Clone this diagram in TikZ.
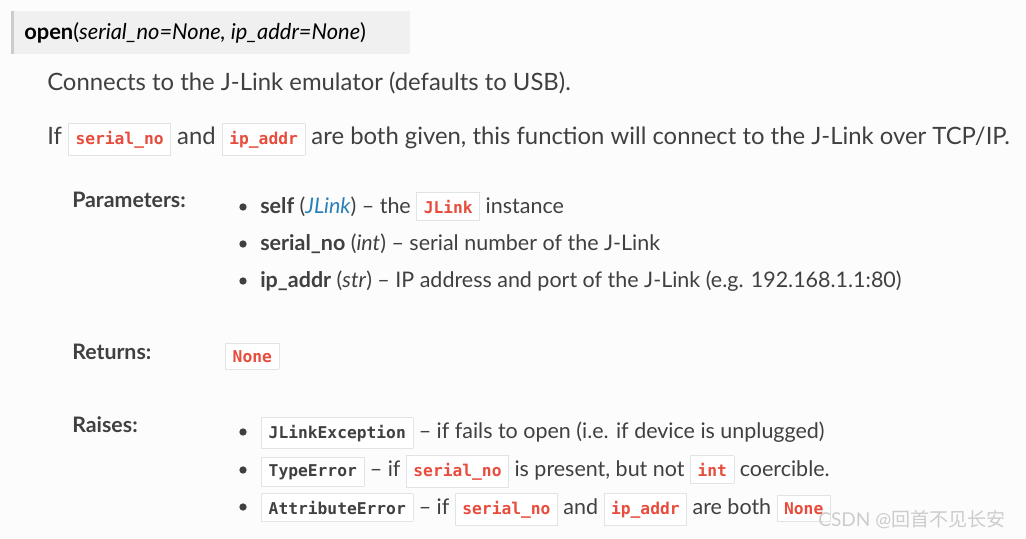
\documentclass[tikz,border=0pt]{standalone}
\usepackage{fontspec}
\setmainfont{Lato}
\newfontfamily\codefont{DejaVu Sans Mono}
\newfontfamily\cjkf{Noto Sans CJK SC}
\definecolor{bg}{HTML}{FCFCFC}
\definecolor{txt}{HTML}{404040}
\definecolor{codered}{HTML}{E74C3C}
\definecolor{boxgray}{HTML}{E1E4E5}
\definecolor{sigbg}{HTML}{F0F0F0}
\definecolor{sigbar}{HTML}{CCCCCC}
\definecolor{linkblue}{HTML}{2980B9}
\setlength{\fboxsep}{5pt}
\setlength{\fboxrule}{0.6pt}
\newcommand\cd[1]{\fcolorbox{boxgray}{white}{\codefont\bfseries\fontsize{12.2}{12}\selectfont\color{codered}#1}}
\newcommand\cdk[1]{\fcolorbox{boxgray}{white}{\codefont\bfseries\fontsize{12.2}{12}\selectfont\color{txt}#1}}
\begin{document}
\begin{tikzpicture}[x=0.75pt,y=-0.75pt,
  body/.style={anchor=base west,inner sep=0,text=txt,font=\fontsize{17.9}{19}\selectfont},
  item/.style={anchor=base west,inner sep=0,text=txt,font=\fontsize{16.1}{17}\selectfont},
  field/.style={anchor=base west,inner sep=0,text=txt,font=\fontsize{16}{17}\selectfont\bfseries},
  dot/.style={circle,fill=txt,inner sep=0,minimum size=5.5pt}]
\fill[bg] (0,0) rectangle (1026,539);
\useasboundingbox (0,0) rectangle (1026,539);
\fill[sigbg] (11,11) rectangle (410,54);
\fill[sigbar] (11,11) rectangle (14,54);
\node[body,text=black,font=\fontsize{16.4}{17}\selectfont] (sig) at (24,40) {\textbf{open}(\textit{serial\_no=None, ip\_addr=None})};
\node[body] (l1) at (47,90) {Connects to the J-Link emulator (defaults to USB).};
\node[body] (l2) at (47,144) {If \cd{serial\_no} and \cd{ip\_addr} are both given, this function will connect to the J-Link over TCP/IP.};
\node[field] (par) at (72,207) {Parameters:};
\node[dot] (d1) at (243,207) {};
\node[dot] (d2) at (243,244) {};
\node[dot] (d3) at (243,281) {};
\node[item] (p1) at (260,213) {\textbf{self} (\textit{\color{linkblue}JLink}) – the \cd{JLink} instance};
\node[item] (p2) at (260,250) {\textbf{serial\_no} (\textit{int}) – serial number of the J-Link};
\node[item] (p3) at (260,287) {\textbf{ip\_addr} (\textit{str}) – IP address and port of the J-Link (e.g. 192.168.1.1:80)};
\node[field] (ret) at (72,359) {Returns:};
\node[item] (rv) at (225,362) {\cd{None}};
\node[field] (rai) at (72,432) {Raises:};
\node[dot] (e1) at (243,432) {};
\node[dot] (e2) at (243,470) {};
\node[dot] (e3) at (243,507) {};
\node[item] (r1) at (261,438) {\cdk{JLinkException} – if fails to open (i.e. if device is unplugged)};
\node[item] (r2) at (261,476) {\cdk{TypeError} – if \cd{serial\_no} is present, but not \cd{int} coercible.};
\node[item] (r3) at (261,514) {\cdk{AttributeError} – if \cd{serial\_no} and \cd{ip\_addr} are both \cd{None}};
\node[anchor=base west,inner sep=0,text=white!60!gray,font=\fontsize{14.3}{15}\selectfont] (wm) at (818,526) {CSDN @{\cjkf 回首不见长安}};
\end{tikzpicture}
\end{document}
